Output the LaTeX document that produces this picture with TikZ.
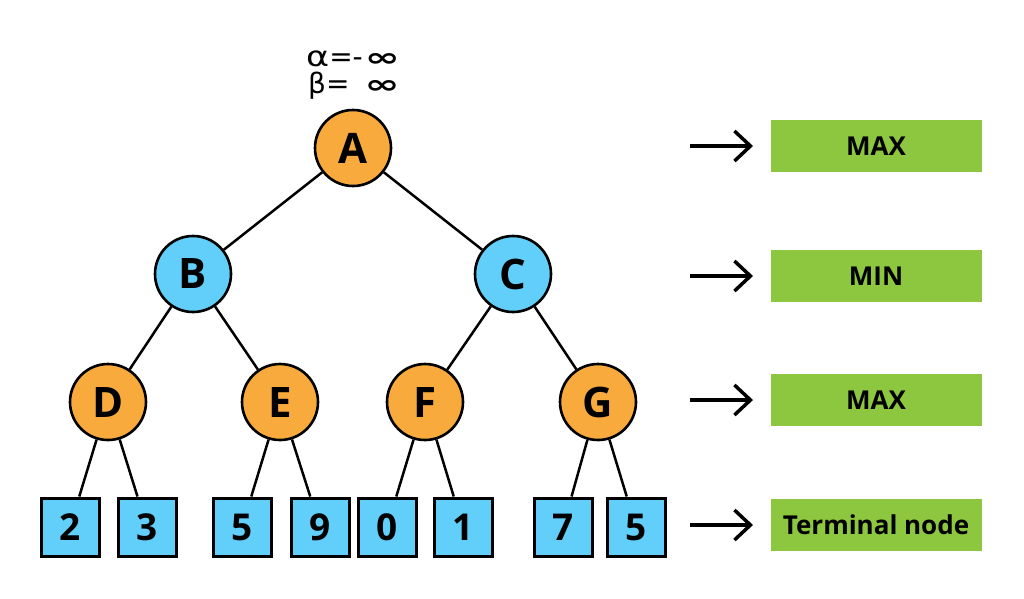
\documentclass[tikz,border=0pt]{standalone}
\usepackage{fontspec}
\usepackage{graphicx}
\setmainfont{Open Sans}
\newfontfamily\symfont{DejaVu Sans}
\usetikzlibrary{arrows.meta}
\definecolor{orng}{RGB}{249,170,60}
\definecolor{sky}{RGB}{97,207,250}
\definecolor{grn}{RGB}{141,198,63}
\newcommand{\myinf}{\resizebox{35pt}{13pt}{\bfseries ∞}}
\tikzset{
  maxnode/.style={circle,draw=black,line width=2.6pt,fill=orng,minimum size=76pt,inner sep=0pt,font=\fontsize{42}{42}\selectfont\bfseries},
  minnode/.style={maxnode,fill=sky},
  leaf/.style={rectangle,draw=black,line width=3pt,fill=sky,minimum size=58pt,inner sep=0pt,font=\fontsize{37}{37}\selectfont\bfseries},
  label box/.style={rectangle,fill=grn,minimum width=211pt,minimum height=52pt,inner sep=0pt,font=\fontsize{26}{26}\selectfont\bfseries},
  edge/.style={line width=2.5pt},
  pointer/.style={line width=3.5pt,-{Straight Barb[length=16pt,width=30pt,line width=3.5pt]}},
  ab/.style={font=\symfont\fontsize{28}{28}\selectfont,inner sep=0pt,anchor=base west}
}
\begin{document}
\begin{tikzpicture}[x=1pt,y=-1pt]
\useasboundingbox (0,0) rectangle (1024,598);
\node[ab] (alpha) at (306,66) {\scalebox{1.25}[1]{α}=-\hspace{2pt}\myinf};
\node[ab] (beta) at (308,93) {β=\hspace{15pt}\myinf};
\node[maxnode] (A) at (353,148) {A};
\node[minnode] (B) at (193,274) {B};
\node[minnode] (C) at (513,274) {C};
\node[maxnode] (D) at (108,402) {D};
\node[maxnode] (E) at (280,402) {E};
\node[maxnode] (F) at (425,402) {F};
\node[maxnode] (G) at (598,402) {G};
\node[leaf] (l1) at (70,527) {2};
\node[leaf] (l2) at (147,527) {3};
\node[leaf] (l3) at (242,527) {5};
\node[leaf] (l4) at (320,527) {9};
\node[leaf] (l5) at (387,527) {0};
\node[leaf] (l6) at (463,527) {1};
\node[leaf] (l7) at (563,527) {7};
\node[leaf] (l8) at (636,527) {5};
\draw[edge] (A) -- (B);
\draw[edge] (A) -- (C);
\draw[edge] (B) -- (D);
\draw[edge] (B) -- (E);
\draw[edge] (C) -- (F);
\draw[edge] (C) -- (G);
\draw[edge] (D) -- (l1);
\draw[edge] (D) -- (l2);
\draw[edge] (E) -- (l3);
\draw[edge] (E) -- (l4);
\draw[edge] (F) -- (l5);
\draw[edge] (F) -- (l6);
\draw[edge] (G) -- (l7);
\draw[edge] (G) -- (l8);
\node[label box] (k1) at (876,146) {MAX};
\node[label box] (k2) at (876,276) {MIN};
\node[label box] (k3) at (876,400) {MAX};
\node[label box] (k4) at (876,525) {Terminal node};
\coordinate (s1) at (690,146);
\coordinate (s2) at (690,276);
\coordinate (s3) at (690,400);
\coordinate (s4) at (690,525);
\coordinate (e1) at (753,146);
\coordinate (e2) at (753,276);
\coordinate (e3) at (753,400);
\coordinate (e4) at (753,525);
\draw[pointer] (s1) -- (e1);
\draw[pointer] (s2) -- (e2);
\draw[pointer] (s3) -- (e3);
\draw[pointer] (s4) -- (e4);
\end{tikzpicture}
\end{document}
